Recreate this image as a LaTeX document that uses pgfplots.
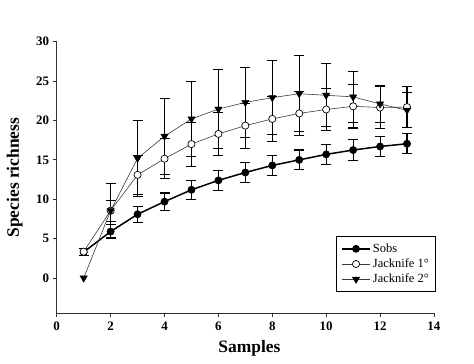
\documentclass[border=0pt]{standalone}
\usepackage{pgfplots}
\pgfplotsset{compat=1.18}
\usepackage{pgfplotstable}
\usepackage{fontspec}
\setmainfont{Liberation Serif}
\pgfplotstableread{
x y e
1 3.3 0.45
2 5.9 0.85
3 8.1 1.0
4 9.7 1.1
5 11.2 1.2
6 12.4 1.25
7 13.4 1.25
8 14.3 1.25
9 15.0 1.25
10 15.7 1.25
11 16.25 1.3
12 16.7 1.25
13 17.05 1.25
}\sobs
\pgfplotstableread{
x y e
1 3.35 0.45
2 8.55 1.35
3 13.1 2.45
4 15.15 2.55
5 17.0 2.8
6 18.3 2.7
7 19.35 2.85
8 20.2 2.85
9 20.9 2.8
10 21.4 2.7
11 21.8 2.75
12 21.65 2.65
13 21.7 2.6
}\jackone
\pgfplotstableread{
x y e
1 0 0
2 8.55 3.4
3 15.2 4.8
4 18.0 4.8
5 20.2 4.8
6 21.45 5.0
7 22.3 4.45
8 22.9 4.7
9 23.4 4.8
10 23.2 4.0
11 23.0 3.2
12 22.1 2.4
13 21.3 2.2
}\jacktwo
\pgfplotstableread{
x y e
2 8.55 3.4
3 15.2 4.8
4 18.0 4.8
5 20.2 4.8
6 21.45 5.0
7 22.3 4.45
8 22.9 4.7
9 23.4 4.8
10 23.2 4.0
11 23.0 3.2
12 22.1 2.4
13 21.3 2.2
}\jacktwoerr
\definecolor{lgray}{HTML}{3A3A3A}
\begin{document}
\begin{tikzpicture}
\begin{axis}[
  scale only axis,
  width=377bp, height=271.6bp,
  xmin=0, xmax=14, ymin=-4.5, ymax=30,
  axis x line*=bottom, axis y line*=left,
  axis line style={-, line width=0.8pt, black!80},
  xtick={0,2,...,14}, ytick={0,5,...,30},
  tick align=outside, major tick length=3.5bp,
  tick style={line width=0.8pt, black!80},
  /pgf/number format/assume math mode=true,
  ticklabel style={font=\bfseries\fontsize{13}{15}\selectfont},
  xticklabel style={yshift=-1.5bp},
  yticklabel style={xshift=-0.5bp},
  xlabel={Samples}, ylabel={Species richness},
  label style={font=\bfseries\fontsize{17.5}{20}\selectfont},
  ylabel style={at={(axis description cs:-0.1114,0.5)}, anchor=center},
  xlabel style={at={(axis description cs:0.511,-0.129)}, anchor=center},
  legend style={at={(rel axis cs:1.006,0.284)}, anchor=north east, draw=black, line width=0.9pt,
     font=\fontsize{12.5}{14}\selectfont, row sep=1pt, inner xsep=5pt, inner ysep=5pt},
  legend cell align=left,
  legend image code/.code={\draw[#1] (0cm,0cm) -- (1cm,0cm); \draw[#1, mark repeat=2, mark phase=2] plot coordinates {(0cm,0cm) (0.5cm,0cm) (1cm,0cm)};},
  clip=false,
  error bars/error bar style={line width=1.1pt, black, solid},
  error bars/error mark options={rotate=90, mark size=5bp, line width=1.1pt, black},
]
% error bars first
\addplot[only marks, mark=none, forget plot, error bars/.cd, y dir=both, y explicit] table[x=x, y=y, y error=e] {\jacktwoerr};
\addplot[only marks, mark=none, forget plot, error bars/.cd, y dir=both, y explicit] table[x=x, y=y, y error=e] {\jackone};
\addplot[only marks, mark=none, forget plot, error bars/.cd, y dir=both, y explicit] table[x=x, y=y, y error=e] {\sobs};
% lines and markers
\addplot[line width=1.5pt, black, mark=*, mark size=3.6bp, mark options={solid, fill=black, line width=0.6pt}] table[x=x, y=y] {\sobs};
\addlegendentry{Sobs}
\addplot[line width=0.6pt, lgray, mark=*, mark size=3.6bp, mark options={solid, fill=white, draw=black, line width=0.7pt}] table[x=x, y=y] {\jackone};
\addlegendentry{Jacknife 1°}
\addplot[line width=0.6pt, lgray, mark=triangle*, mark size=4.2bp, mark options={solid, fill=black, draw=black, rotate=180, line width=0.4pt}] table[x=x, y=y] {\jacktwo};
\addlegendentry{Jacknife 2°}
\end{axis}
\pgfresetboundingbox
\path[use as bounding box] ([shift={(-56.7bp,-49.7bp)}]current axis.south west) rectangle ([shift={(40bp,41.7bp)}]current axis.north east);
\end{tikzpicture}
\end{document}
